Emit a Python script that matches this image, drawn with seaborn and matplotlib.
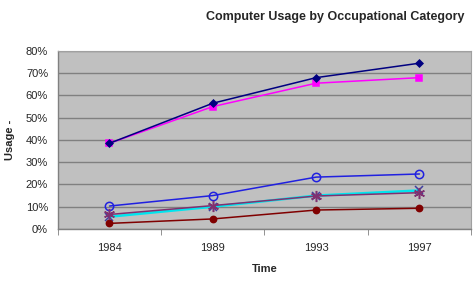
import numpy as np
import pandas as pd
import matplotlib
matplotlib.use('Agg')
import matplotlib.pyplot as plt
import seaborn as sns
from matplotlib.ticker import FixedLocator, PercentFormatter

# ── Data ────────────────────────────────────────────────────────────────────
years = ['1984', '1989', '1993', '1997']
series_names = ['Navy', 'Magenta', 'Blue', 'Purple', 'Cyan', 'DarkRed']
navy = [38.5, 56.5, 68.0, 74.5]
magenta = [38.5, 55.0, 65.5, 68.0]
blue = [10.3, 15.0, 23.3, 24.7]
purple = [6.5, 10.5, 14.8, 16.3]
cyan = [5.5, 10.0, 15.0, 17.3]
darkred = [2.5, 4.5, 8.5, 9.3]

colors = ['#000080', '#FF00FF', '#2020E0', '#803070', '#00E5EE', '#800000']
markers = ['D', 's', 'o', (6, 2, 0), 'x', 'o']
mfc = ['#000080', '#FF00FF', 'none', '#803070', '#4040A0', '#800000']
mec = ['#000080', '#FF00FF', '#2020E0', '#803070', '#4040A0', '#800000']
msize = [3.5, 5, 6, 8, 6, 4.5]

rows = []
for name, vals in zip(series_names, [navy, magenta, blue, purple, cyan, darkred]):
    for i, v in enumerate(vals):
        rows.append({'series': name, 'x': i, 'usage': v})
df = pd.DataFrame(rows)

# ── Plot ────────────────────────────────────────────────────────────────────
sns.set_style('white')
plt.rcParams['font.family'] = ['Liberation Sans', 'DejaVu Sans']

fig = plt.figure(figsize=(4.74, 2.83), dpi=100)
ax = fig.add_axes([0.122, 0.191, 0.872, 0.629])
ax.set_facecolor('#C0C0C0')

# draw order: cyan under purple
order = ['Cyan', 'DarkRed', 'Blue', 'Purple', 'Magenta', 'Navy']
for name in order:
    i = series_names.index(name)
    sub = df[df['series'] == name]
    sns.lineplot(data=sub, x='x', y='usage', ax=ax, color=colors[i],
                 lw=1.8 if name == 'Cyan' else 1.1,
                 marker=markers[i], markersize=msize[i],
                 markerfacecolor=mfc[i], markeredgecolor=mec[i],
                 markeredgewidth=1.1, legend=False)

ax.set_xlim(-0.5, 3.5)
ax.set_ylim(0, 80)
ax.yaxis.set_major_locator(FixedLocator(np.arange(0, 81, 10)))
ax.yaxis.set_major_formatter(PercentFormatter(decimals=0))
ax.grid(axis='y', color='#808080', lw=1)
ax.set_axisbelow(True)

ax.set_xticks(range(len(years)))
ax.set_xticklabels(years)
ax.set_xticks(np.arange(-0.5, 3.6, 1), minor=True)
ax.tick_params(axis='x', which='major', length=0, pad=10, labelsize=8)
ax.tick_params(axis='x', which='minor', length=4, color='#808080', direction='out')
ax.tick_params(axis='y', length=4, color='#808080', direction='out', labelsize=8, pad=3)
ax.tick_params(bottom=True, which='both')

for s in ['top', 'right']:
    ax.spines[s].set_color('#A0A0A0')
    ax.spines[s].set_linewidth(0.8)
for s in ['left', 'bottom']:
    ax.spines[s].set_color('#808080')
    ax.spines[s].set_linewidth(1)

ax.set_xlabel('Time', fontsize=8, fontweight='bold', labelpad=8)
ax.set_ylabel('Usage -', fontsize=8, fontweight='bold', labelpad=8)
fig.text(0.707, 0.94, 'Computer Usage by Occupational Category',
         ha='center', va='center', fontsize=9, fontweight='bold')

fig.savefig('out.png', dpi=100)
